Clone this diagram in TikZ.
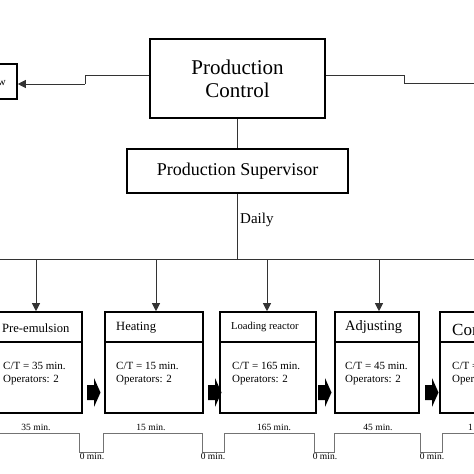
\documentclass[tikz,border=0pt]{standalone}
\usepackage{fontspec}
\setmainfont{Liberation Serif}
\usetikzlibrary{arrows.meta}
\begin{document}
\begin{tikzpicture}[x=1pt,y=-1pt,
  box/.style={draw=black,line width=1.6pt,inner sep=0pt,fill=white},
  conn/.style={draw=black!80,line width=1pt},
  arr/.style={conn,-{Triangle[width=8pt,length=8pt]}},
  tline/.style={draw=black!55,line width=1pt},
  fat/.style={fill=black,draw=none},
  body/.style={font=\fontsize{11}{13}\selectfont,anchor=north west,align=left,inner sep=0pt},
  ttl/.style={anchor=west,inner sep=0pt},
  tlab/.style={font=\fontsize{9.5}{10}\selectfont,inner sep=0pt}]
\clip (0,0) rectangle (474,474);
\fill[white] (0,0) rectangle (474,474);
% top boxes
\node[box,minimum width=175pt,minimum height=79pt,align=center,font=\fontsize{21}{23}\selectfont] (pc) at (237.5,78.5) {Production\\Control};
\node[box,minimum width=221pt,minimum height=44pt,font=\fontsize{18}{20}\selectfont] (ps) at (237.5,171) {Production Supervisor};
\node[box,minimum width=74pt,minimum height=35pt] (lb) at (-20,81.5) {};
\node[anchor=east,inner sep=0pt,font=\fontsize{11}{12}\selectfont] (lbt) at (6,83) {w};
% left flow
\coordinate (l1) at (85,75.7);
\coordinate (l2) at (85,84);
\draw[conn] (pc.west |- l1) -- (l1) -- (l2);
\draw[arr] (l2) -- (lb.east |- l2);
% right flow
\coordinate (r1) at (404,75.7);
\coordinate (r2) at (404,83.7);
\coordinate (r3) at (474,83.7);
\draw[conn] (pc.east |- r1) -- (r1) -- (r2) -- (r3);
% supervisor
\coordinate (bus) at (237,259);
\draw[conn] (pc.south -| bus) -- (ps.north -| bus);
\draw[conn] (ps.south -| bus) -- (bus);
\node[anchor=west,inner sep=0pt,font=\fontsize{15}{16}\selectfont] (daily) at (240,220) {Daily};
\coordinate (busl) at (0,259);
\coordinate (busr) at (474,259);
\draw[conn] (busl) -- (busr);
% process boxes
\node[box,minimum width=91pt,minimum height=101pt] (pe) at (36.5,362.5) {};
\node[box,minimum width=98pt,minimum height=101pt] (he) at (154,362.5) {};
\node[box,minimum width=96pt,minimum height=101pt] (lr) at (268,362.5) {};
\node[box,minimum width=84pt,minimum height=101pt] (ad) at (377,362.5) {};
\node[box,minimum width=100pt,minimum height=101pt] (co) at (490,362.5) {};
\foreach \b in {pe,he,lr,ad,co}{
  \draw[line width=1.6pt] (\b.west |- 0,342) -- (\b.east |- 0,342);
}
% titles
\node[ttl,font=\fontsize{12.6}{14}\selectfont] (tpe) at (2,328) {Pre-emulsion};
\node[ttl,font=\fontsize{12.6}{14}\selectfont] (the) at (116,328) {Heating};
\node[ttl,font=\fontsize{10.6}{12}\selectfont] (tlr) at (231,327) {Loading reactor};
\node[ttl,font=\fontsize{14.4}{16}\selectfont] (tad) at (345,327) {Adjusting};
\node[ttl,font=\fontsize{17}{18}\selectfont] (tco) at (452,330) {Con};
% body texts
\node[body] (bpe) at (3,362.5) {C/T = 35 min.\\Operators: 2};
\node[body] (bhe) at (116,362.5) {C/T = 15 min.\\Operators: 2};
\node[body] (blr) at (232,362) {C/T = 165 min.\\Operators: 2};
\node[body] (bad) at (345,362.5) {C/T = 45 min.\\Operators: 2};
\node[body] (bco) at (452,362.5) {C/T = \\Operators: 2};
% down arrows
\coordinate (d1) at (36,259);
\coordinate (d2) at (156,259);
\coordinate (d3) at (267,259);
\coordinate (d4) at (379,259);
\draw[arr] (d1) -- (d1 |- pe.north);
\draw[arr] (d2) -- (d2 |- he.north);
\draw[arr] (d3) -- (d3 |- lr.north);
\draw[arr] (d4) -- (d4 |- ad.north);
% fat arrows
\foreach \x in {87,208,318,425}{
  \fill[fat] (\x,385) -- (\x+7,385) -- (\x+7,378) -- (\x+13.5,392.5) -- (\x+7,407) -- (\x+7,400) -- (\x,400) -- cycle;
}
% timeline
\coordinate (t0) at (0,433);
\coordinate (t9) at (474,433);
\draw[tline] (t0) -- (79,433) -- (79,452) -- (103,452) -- (103,433) -- (202,433) -- (202,452) -- (224,452) -- (224,433) -- (314,433) -- (314,452) -- (334,452) -- (334,433) -- (420,433) -- (420,452) -- (442,452) -- (442,433) -- (t9);
\node[tlab] (m1) at (36,427) {35 min.};
\node[tlab] (m2) at (151,427) {15 min.};
\node[tlab] (m3) at (274,427) {165 min.};
\node[tlab] (m4) at (378,427) {45 min.};
\node[tlab,anchor=west] (m5) at (468,427) {1};
\node[tlab] (z1) at (92,456) {0 min.};
\node[tlab] (z2) at (213,456) {0 min.};
\node[tlab] (z3) at (325,456) {0 min.};
\node[tlab] (z4) at (432,456) {0 min.};
\end{tikzpicture}
\end{document}
